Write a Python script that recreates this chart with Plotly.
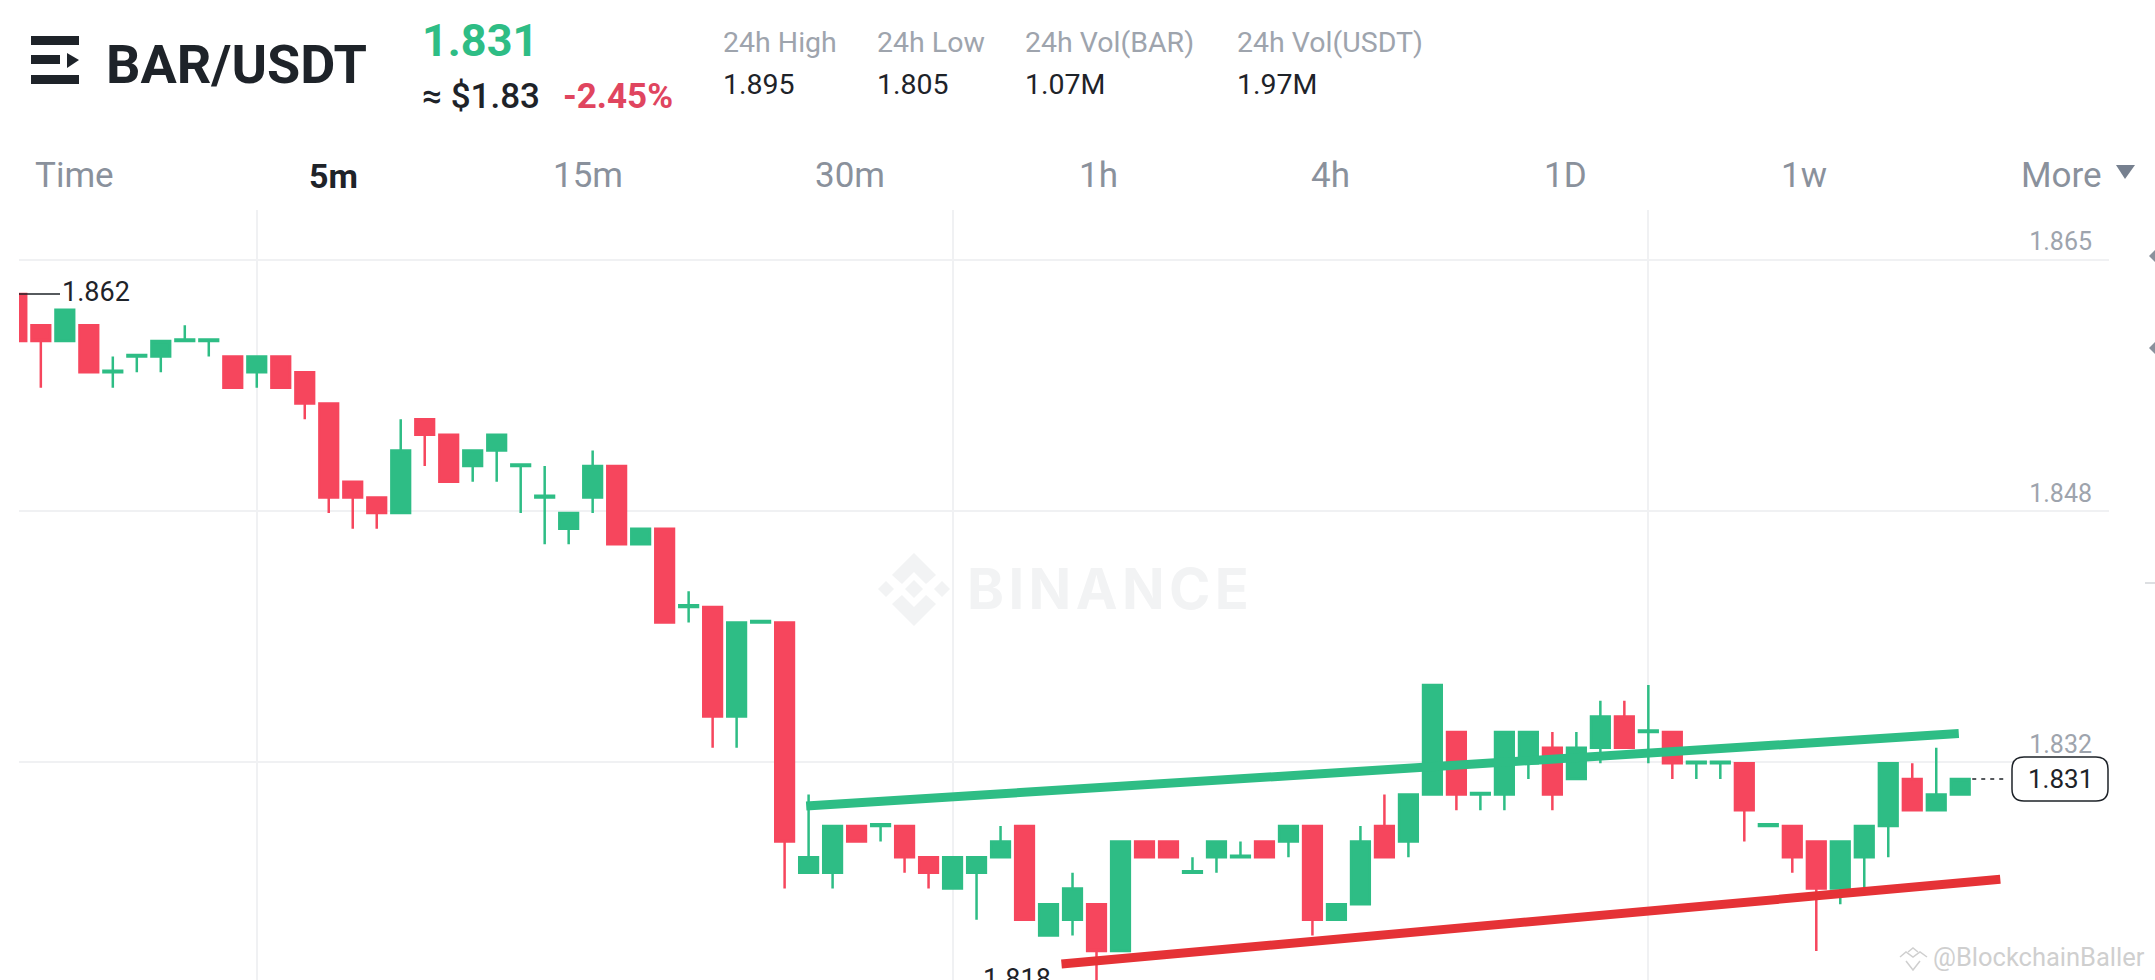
import plotly.graph_objects as go

W, H = 2155, 980
UP = "#2EBD85"
DOWN = "#F6465D"
DARK = "#1E2329"
GREY = "#9EA4AD"
GRID = "#F0F1F3"
FONT = "Roboto"

# candles, 5m (a flat close sits a hair above its open)
opens = [
    1.862, 1.860, 1.859, 1.860, 1.857, 1.858, 1.858, 1.859, 1.859, 1.858,
    1.857, 1.858, 1.857, 1.855, 1.850, 1.849, 1.848, 1.854, 1.853, 1.851,
    1.852, 1.851, 1.849, 1.847, 1.849, 1.851, 1.846, 1.847, 1.842, 1.842,
    1.835, 1.841, 1.841, 1.825, 1.825, 1.828, 1.828, 1.828, 1.826, 1.824,
    1.825, 1.826, 1.828, 1.821, 1.822, 1.823, 1.820, 1.827, 1.827, 1.825,
    1.826, 1.826, 1.827, 1.827, 1.828, 1.822, 1.823, 1.828, 1.827, 1.830,
    1.834, 1.830, 1.830, 1.832, 1.833, 1.831, 1.833, 1.835, 1.834, 1.834,
    1.832, 1.832, 1.832, 1.828, 1.828, 1.827, 1.824, 1.826, 1.828, 1.831,
    1.829, 1.830,
]
highs = [
    1.862, 1.860, 1.861, 1.860, 1.858, 1.8581, 1.859, 1.860, 1.8591, 1.858,
    1.858, 1.858, 1.857, 1.855, 1.850, 1.849, 1.854, 1.854, 1.853, 1.852,
    1.853, 1.8511, 1.851, 1.848, 1.852, 1.851, 1.847, 1.847, 1.843, 1.842,
    1.841, 1.8411, 1.841, 1.830, 1.828, 1.828, 1.8281, 1.828, 1.826, 1.826,
    1.826, 1.828, 1.828, 1.823, 1.825, 1.823, 1.827, 1.827, 1.827, 1.826,
    1.827, 1.827, 1.827, 1.828, 1.828, 1.823, 1.828, 1.830, 1.830, 1.837,
    1.834, 1.8301, 1.834, 1.834, 1.834, 1.834, 1.836, 1.836, 1.837, 1.834,
    1.8321, 1.8321, 1.832, 1.8281, 1.828, 1.827, 1.827, 1.828, 1.832, 1.832,
    1.833, 1.831,
]
lows = [
    1.859, 1.856, 1.859, 1.857, 1.856, 1.857, 1.857, 1.859, 1.858, 1.856,
    1.856, 1.856, 1.854, 1.848, 1.847, 1.847, 1.848, 1.851, 1.850, 1.850,
    1.850, 1.848, 1.846, 1.846, 1.848, 1.846, 1.846, 1.841, 1.841, 1.833,
    1.833, 1.841, 1.824, 1.825, 1.824, 1.827, 1.827, 1.825, 1.824, 1.824,
    1.822, 1.826, 1.822, 1.821, 1.821, 1.818, 1.820, 1.826, 1.826, 1.825,
    1.825, 1.826, 1.826, 1.826, 1.821, 1.822, 1.823, 1.826, 1.826, 1.830,
    1.829, 1.829, 1.829, 1.831, 1.829, 1.831, 1.832, 1.833, 1.832, 1.831,
    1.831, 1.831, 1.827, 1.828, 1.825, 1.820, 1.823, 1.824, 1.826, 1.829,
    1.829, 1.830,
]
closes = [
    1.859, 1.859, 1.861, 1.857, 1.8571, 1.8581, 1.859, 1.8591, 1.8591, 1.856,
    1.858, 1.856, 1.855, 1.849, 1.849, 1.848, 1.852, 1.853, 1.850, 1.852,
    1.853, 1.8511, 1.8491, 1.848, 1.851, 1.846, 1.847, 1.841, 1.8421, 1.835,
    1.841, 1.8411, 1.827, 1.826, 1.828, 1.827, 1.8281, 1.826, 1.825, 1.826,
    1.826, 1.827, 1.822, 1.823, 1.824, 1.820, 1.827, 1.826, 1.826, 1.8251,
    1.827, 1.8261, 1.826, 1.828, 1.822, 1.823, 1.827, 1.826, 1.830, 1.837,
    1.830, 1.8301, 1.834, 1.834, 1.830, 1.833, 1.835, 1.833, 1.8341, 1.832,
    1.8321, 1.8321, 1.829, 1.8281, 1.826, 1.824, 1.827, 1.828, 1.832, 1.829,
    1.830, 1.831,
]
candle_x = list(range(1, len(opens) + 1))

# hand drawn trend lines
green_line_x = [33.9, 81.94]
green_line_y = [1.82927, 1.8339]
red_line_x = [44.54, 83.67]
red_line_y = [1.81917, 1.82459]

price_ticks = [1.8321, 1.8481, 1.8642]
price_labels = ["1.832", "1.848", "1.865"]
time_ticks = [11, 40, 69]

# header text
stat_labels = ["24h High", "24h Low", "24h Vol(BAR)", "24h Vol(USDT)"]
stat_values = ["1.895", "1.805", "1.07M", "1.97M"]
stat_left = [722, 876, 1024, 1236]
tabs = ["Time", "5m", "15m", "30m", "1h", "4h", "1D", "1w", "More"]
tab_left = [34, 308, 552, 814, 1078, 1310, 1543, 1780, 2020]


def pt(x, y):
    return f"{x / W:.5f},{1 - y / H:.5f}"


def poly(points):
    return "M" + " L".join(pt(x, y) for x, y in points) + " Z"


def label(x, y, text, size, color=DARK, anchor="left", family=FONT, weight="normal"):
    return dict(
        xref="paper", yref="paper", x=x / W, y=1 - y / H, text=text, showarrow=False,
        xanchor=anchor, yanchor="middle", borderpad=0,
        font=dict(family=family, size=size, color=color, weight=weight),
    )


def fill_shape(path, color, layer="above"):
    return dict(type="path", xref="paper", yref="paper", path=path,
                fillcolor=color, line=dict(width=0), layer=layer)


fig = go.Figure()

fig.add_trace(
    go.Candlestick(
        x=candle_x, open=opens, high=highs, low=lows, close=closes,
        increasing=dict(line=dict(color=UP, width=2.5), fillcolor=UP),
        decreasing=dict(line=dict(color=DOWN, width=2.5), fillcolor=DOWN),
        showlegend=False,
    )
)
fig.add_trace(go.Scatter(x=green_line_x, y=green_line_y, mode="lines",
                         line=dict(color=UP, width=9), showlegend=False))
fig.add_trace(go.Scatter(x=red_line_x, y=red_line_y, mode="lines",
                         line=dict(color="#E53236", width=9), showlegend=False))
# leader to the high and dashed leader to the last price
fig.add_trace(go.Scatter(x=[1.09, 2.8], y=[1.862, 1.862], mode="lines",
                         line=dict(color=DARK, width=1.5), showlegend=False))
fig.add_trace(go.Scatter(x=[82.5, 83.8], y=[1.831, 1.831], mode="lines",
                         line=dict(color=DARK, width=1.5, dash="4px,5px"), showlegend=False))

annotations = [
    label(105, 64, "BAR/USDT", 54, weight=700),
    label(421, 40, "1.831", 45, UP, weight=700),
    label(421, 97, "≈ $1.83", 35, weight=500),
    label(562, 97, "-2.45%", 35, "#E0455F", weight=700),
    # watermarks
    label(966, 589, "B\u200aI\u200aN\u200aA\u200aN\u200aC\u200aE", 56, "#F2F3F4", family="Inter", weight=700),
    label(1932, 957, "@BlockchainBaller", 25.5, "#CFCFCF"),
    # last price tag
    label(2060, 779, "1.831", 26, DARK, "center"),
]
for x, lab, val in zip(stat_left, stat_labels, stat_values):
    annotations.append(label(x, 43, lab, 28.5, GREY))
    annotations.append(label(x, 84, val, 28.5))
for x, tab in zip(tab_left, tabs):
    if tab == "5m":
        annotations.append(label(x, 176, tab, 34, weight=700))
    else:
        annotations.append(label(x, 176, tab, 35, "#8A919C"))
annotations.append(dict(x=2.8, y=1.8621, xref="x", yref="y", text="1.862", showarrow=False,
                        xanchor="left", yanchor="middle",
                        font=dict(family=FONT, size=27, color=DARK)))
# sits on the bottom edge of the axis, half cut off by the page
annotations.append(dict(x=42.7, y=1.8182, xref="x", yref="y", text="1.818", showarrow=False,
                        xanchor="center", yanchor="middle",
                        font=dict(family=FONT, size=27, color=DARK)))

tag = (
    f"M{pt(2024, 757)} L{pt(2096, 757)} Q{pt(2108, 757)} {pt(2108, 769)} "
    f"L{pt(2108, 789)} Q{pt(2108, 801)} {pt(2096, 801)} L{pt(2024, 801)} "
    f"Q{pt(2012, 801)} {pt(2012, 789)} L{pt(2012, 769)} Q{pt(2012, 757)} {pt(2024, 757)} Z"
)

wm = "#F2F3F4"
shapes = [
    # menu icon
    fill_shape(poly([(31, 36), (79, 36), (79, 45), (31, 45)]), DARK),
    fill_shape(poly([(31, 55), (60, 55), (60, 64), (31, 64)]), DARK),
    fill_shape(poly([(67, 53), (79, 60), (67, 68)]), DARK),
    fill_shape(poly([(31, 75), (79, 75), (79, 84), (31, 84)]), DARK),
    # "More" arrow
    fill_shape(poly([(2116, 165), (2135, 165), (2125, 179)]), "#76808F"),
    # clipped controls at the right edge
    fill_shape(poly([(2155, 250), (2155, 262), (2149, 256)]), "#8A919C"),
    fill_shape(poly([(2155, 342), (2155, 354), (2149, 348)]), "#8A919C"),
    fill_shape(poly([(2145, 582), (2155, 582), (2155, 584), (2145, 584)]), "#DDDFE2"),
    # binance mark
    fill_shape(poly([(914, 553), (936, 575), (926, 584), (914, 572), (902, 584), (892, 575)]), wm, "below"),
    fill_shape(poly([(914, 626), (936, 604), (926, 595), (914, 607), (902, 595), (892, 604)]), wm, "below"),
    fill_shape(poly([(914, 580), (923, 589), (914, 598), (905, 589)]), wm, "below"),
    fill_shape(poly([(886, 581), (894, 589), (886, 597), (878, 589)]), wm, "below"),
    fill_shape(poly([(942, 581), (950, 589), (942, 597), (934, 589)]), wm, "below"),
    # small mark next to the handle
    dict(type="path", xref="paper", yref="paper",
         path=f"M{pt(1900, 957)} L{pt(1906, 952)} L{pt(1913, 957)} L{pt(1920, 952)} L{pt(1927, 957)} "
              f"M{pt(1906, 961)} L{pt(1913, 970)} L{pt(1920, 961)} M{pt(1908, 952)} L{pt(1913, 948)} L{pt(1918, 952)}",
         line=dict(color="#CFCFCF", width=1.5), layer="above"),
    # last price tag
    dict(type="path", xref="paper", yref="paper", path=tag, fillcolor="white",
         line=dict(color=DARK, width=1.5), layer="above"),
]

fig.update_layout(
    width=W, height=H,
    margin=dict(l=0, r=0, t=0, b=0),
    paper_bgcolor="white", plot_bgcolor="white",
    showlegend=False, boxgap=0.22, boxgroupgap=0,
    annotations=annotations, shapes=shapes,
    xaxis=dict(
        domain=[19 / W, 2109 / W], range=[1.09, 88.2], rangeslider=dict(visible=False),
        tickvals=time_ticks, showticklabels=False, ticks="", showgrid=True,
        gridcolor=GRID, gridwidth=1.5, zeroline=False, showline=False,
    ),
    yaxis=dict(
        domain=[0, 1 - 210 / H], range=[1.81815, 1.86737], side="right",
        tickvals=price_ticks, ticktext=price_labels, ticklabelposition="inside",
        ticklabelstandoff=14, ticklabelshift=-18, ticks="",
        tickfont=dict(family=FONT, size=25, color=GREY),
        showgrid=True, gridcolor=GRID, gridwidth=1.5, zeroline=False, showline=False,
    ),
)

# the browser's default body margin would push the plot 8px off
fig.write_html("out.html", config={"displayModeBar": False},
               post_script="document.body.style.margin = '0';")
